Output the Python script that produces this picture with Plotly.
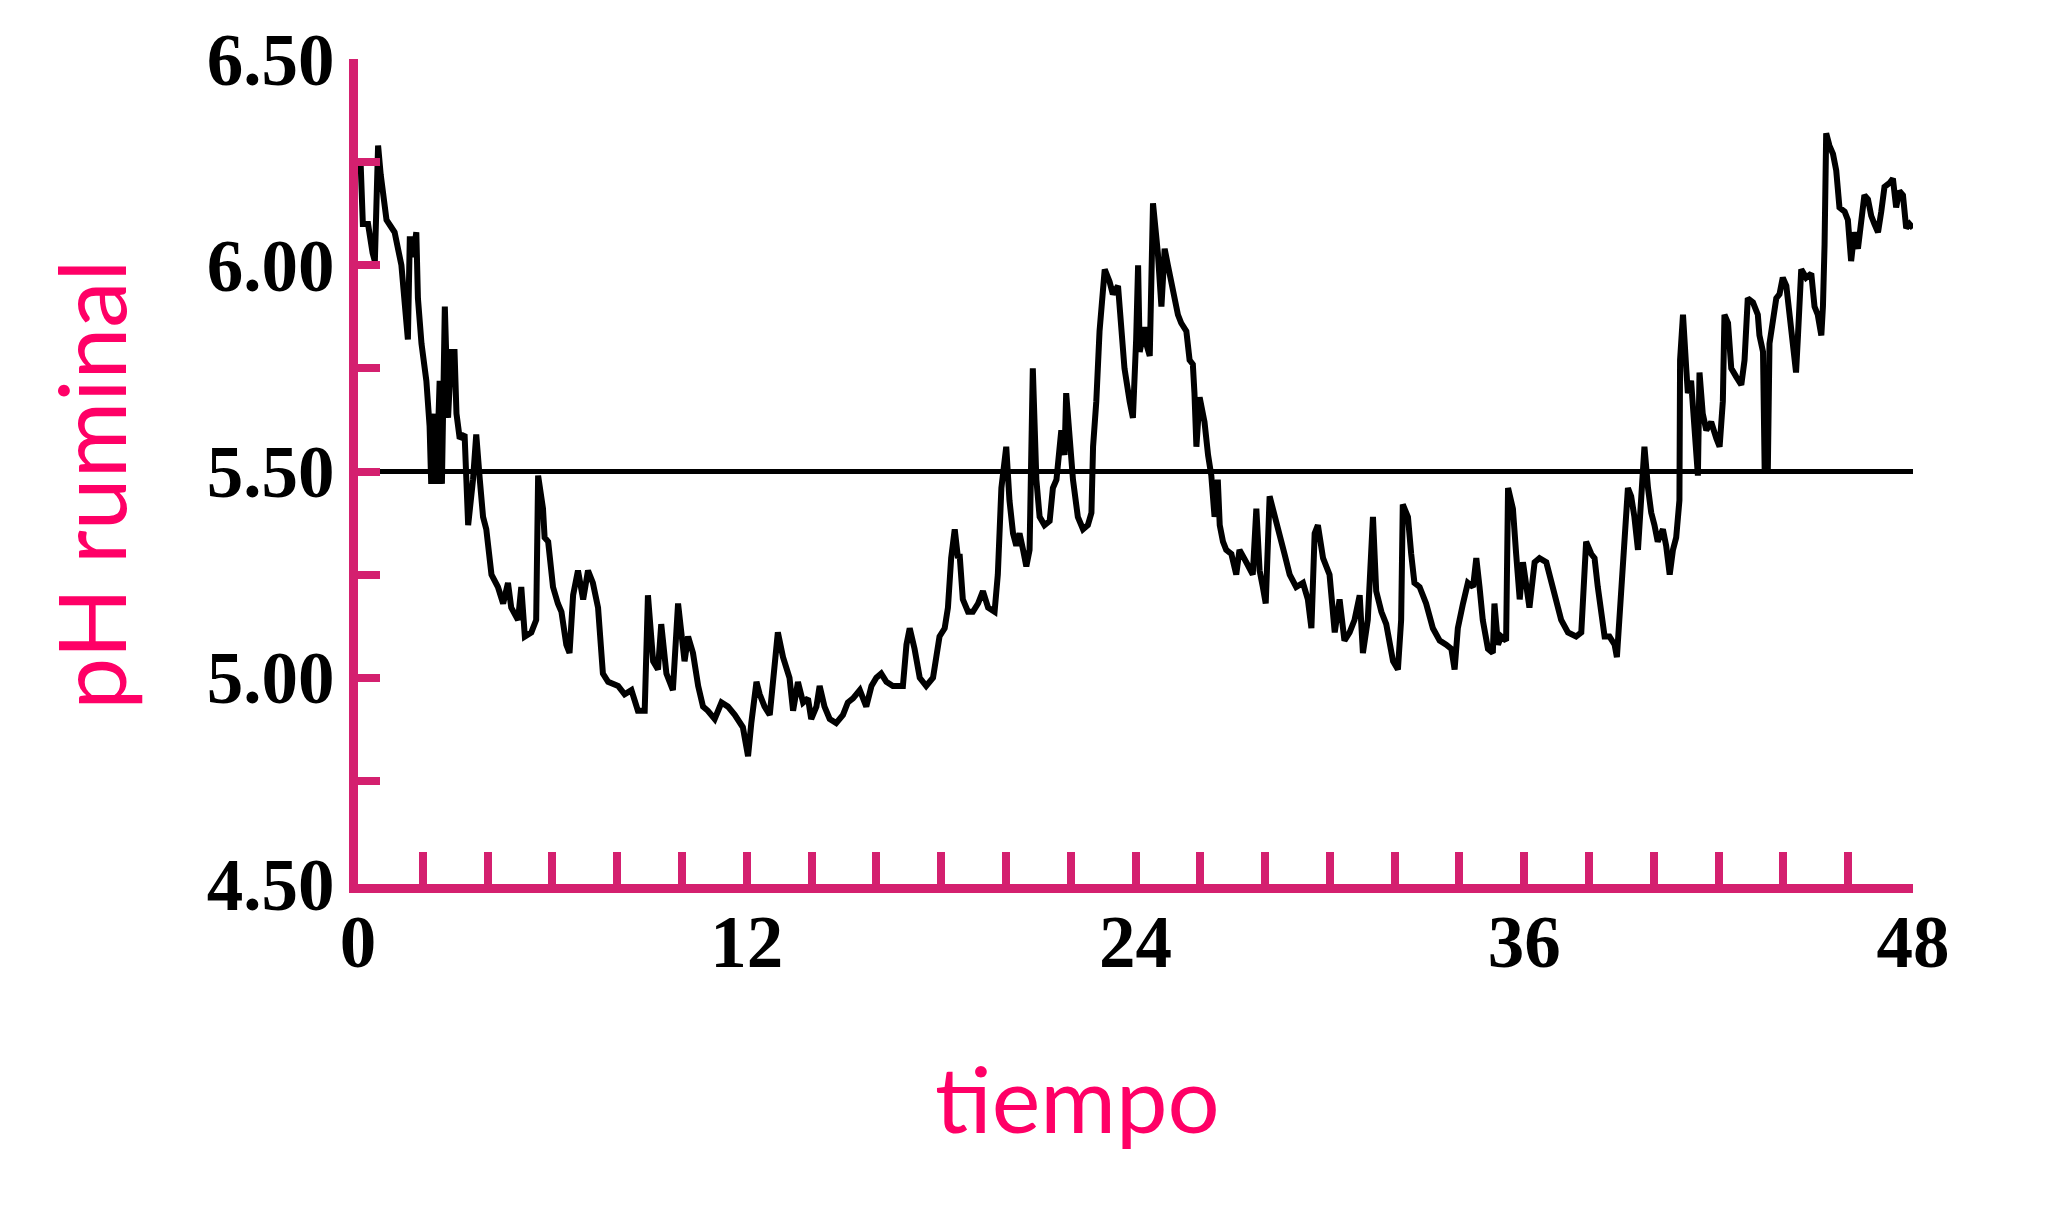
import plotly.graph_objects as go

# Time (hours) and ruminal pH
hours = [0.00, 0.08, 0.15, 0.31, 0.45, 0.52, 0.62, 0.70, 0.88, 1.13, 1.34, 1.44, 1.54, 1.60, 1.70, 1.80,
         1.85, 1.96, 2.11, 2.21, 2.26, 2.37, 2.42, 2.52, 2.59, 2.68, 2.78, 2.88, 2.98, 3.04, 3.14, 3.29,
         3.40, 3.55, 3.65, 3.76, 3.86, 3.96, 4.12, 4.32, 4.48, 4.63, 4.73, 4.94, 5.04, 5.15, 5.35, 5.50,
         5.56, 5.71, 5.76, 5.87, 6.02, 6.17, 6.28, 6.43, 6.53, 6.64, 6.79, 6.95, 7.10, 7.25, 7.41, 7.56,
         7.72, 8.03, 8.23, 8.44, 8.64, 8.85, 8.95, 9.11, 9.26, 9.36, 9.52, 9.72, 9.88, 10.08, 10.19, 10.34,
         10.50, 10.65, 10.80, 11.01, 11.22, 11.42, 11.63, 11.88, 12.04, 12.14, 12.30, 12.40, 12.55, 12.71,
         12.86, 12.96, 13.12, 13.32, 13.43, 13.58, 13.74, 13.89, 13.99, 14.15, 14.25, 14.40, 14.56, 14.76,
         14.97, 15.12, 15.28, 15.49, 15.69, 15.85, 16.00, 16.15, 16.31, 16.51, 16.82, 16.93, 17.03, 17.18,
         17.34, 17.54, 17.75, 17.85, 17.95, 18.11, 18.21, 18.31, 18.42, 18.52, 18.57, 18.67, 18.83, 18.98,
         19.14, 19.29, 19.45, 19.65, 19.75, 19.86, 20.01, 20.11, 20.22, 20.32, 20.42, 20.53, 20.63, 20.73,
         20.83, 20.94, 21.04, 21.19, 21.35, 21.45, 21.56, 21.71, 21.81, 21.86, 21.97, 22.07, 22.22, 22.38,
         22.53, 22.64, 22.69, 22.79, 22.89, 23.05, 23.20, 23.30, 23.46, 23.56, 23.66, 23.82, 23.92, 24.02,
         24.08, 24.13, 24.28, 24.33, 24.44, 24.54, 24.69, 24.80, 24.90, 25.00, 25.16, 25.31, 25.41, 25.57,
         25.67, 25.77, 25.82, 25.88, 25.98, 26.13, 26.24, 26.34, 26.44, 26.54, 26.60, 26.70, 26.80, 26.96,
         27.11, 27.21, 27.42, 27.62, 27.73, 27.83, 27.93, 28.02, 28.14, 28.29, 28.45, 28.60, 28.76, 28.96,
         29.17, 29.32, 29.43, 29.53, 29.63, 29.79, 29.99, 30.15, 30.30, 30.45, 30.61, 30.76, 30.92, 31.02,
         31.17, 31.33, 31.43, 31.59, 31.74, 31.95, 32.10, 32.20, 32.25, 32.41, 32.51, 32.61, 32.77, 32.97,
         33.18, 33.39, 33.59, 33.75, 33.85, 33.95, 34.11, 34.26, 34.42, 34.52, 34.62, 34.72, 34.88, 35.03,
         35.08, 35.19, 35.29, 35.44, 35.50, 35.65, 35.75, 35.86, 35.96, 36.06, 36.16, 36.32, 36.47, 36.68,
         36.83, 36.99, 37.14, 37.35, 37.60, 37.76, 37.86, 37.91, 38.07, 38.17, 38.27, 38.38, 38.48, 38.63,
         38.79, 38.86, 38.94, 39.04, 39.10, 39.20, 39.30, 39.40, 39.51, 39.61, 39.71, 39.82, 39.92, 40.02,
         40.12, 40.28, 40.38, 40.49, 40.59, 40.69, 40.79, 40.81, 40.90, 41.00, 41.05, 41.15, 41.26, 41.36,
         41.41, 41.51, 41.62, 41.77, 41.93, 42.03, 42.13, 42.18, 42.29, 42.39, 42.54, 42.70, 42.80, 42.90,
         43.06, 43.21, 43.26, 43.37, 43.42, 43.52, 43.57, 43.67, 43.78, 43.88, 43.98, 44.09, 44.19, 44.29,
         44.39, 44.45, 44.55, 44.70, 44.86, 44.96, 45.06, 45.17, 45.22, 45.27, 45.32, 45.42, 45.53, 45.63,
         45.73, 45.89, 45.99, 46.09, 46.19, 46.30, 46.40, 46.50, 46.61, 46.71, 46.81, 46.92, 47.02, 47.12,
         47.28, 47.38, 47.48, 47.58, 47.69, 47.79, 47.89, 48.00]

ph = [6.23, 6.25, 6.10, 6.10, 6.03, 6.01, 6.29, 6.22, 6.11, 6.08, 6.00, 5.90, 5.82, 6.07, 6.02, 6.08,
      5.92, 5.81, 5.72, 5.61, 5.47, 5.64, 5.47, 5.72, 5.47, 5.90, 5.63, 5.79, 5.79, 5.64, 5.58, 5.59,
      5.37, 5.48, 5.59, 5.48, 5.39, 5.36, 5.25, 5.22, 5.18, 5.23, 5.17, 5.14, 5.22, 5.10, 5.11, 5.14,
      5.49, 5.41, 5.34, 5.33, 5.22, 5.18, 5.16, 5.08, 5.06, 5.20, 5.26, 5.19, 5.26, 5.23, 5.17, 5.01,
      4.99, 4.98, 4.96, 4.97, 4.92, 4.92, 5.20, 5.04, 5.02, 5.13, 5.01, 4.97, 5.18, 5.04, 5.10, 5.06,
      4.98, 4.93, 4.92, 4.90, 4.94, 4.93, 4.91, 4.88, 4.81, 4.89, 4.99, 4.96, 4.93, 4.91,
      5.02, 5.11, 5.05, 5.00, 4.92, 4.99, 4.94, 4.95, 4.90, 4.93, 4.98, 4.93, 4.90, 4.89,
      4.91, 4.94, 4.95, 4.97, 4.93, 4.98, 5.00, 5.01, 4.99, 4.98, 4.98, 5.08, 5.12, 5.07,
      5.00, 4.98, 5.00, 5.05, 5.10, 5.12, 5.17, 5.29, 5.36, 5.29, 5.30, 5.19, 5.16, 5.16,
      5.18, 5.21, 5.17, 5.16, 5.25, 5.46, 5.56, 5.43, 5.35, 5.32, 5.35, 5.31, 5.27, 5.31,
      5.75, 5.48, 5.39, 5.37, 5.38, 5.46, 5.48, 5.60, 5.54, 5.69, 5.56, 5.48, 5.39, 5.36,
      5.37, 5.40, 5.56, 5.67, 5.84, 5.99, 5.96, 5.93, 5.95, 5.84, 5.75, 5.67, 5.63, 5.82,
      6.00, 5.79, 5.85, 5.81, 5.78, 6.15, 6.03, 5.90, 6.04, 6.00, 5.93, 5.88, 5.86, 5.84,
      5.77, 5.76, 5.69, 5.56, 5.68, 5.62, 5.54, 5.49, 5.39, 5.48, 5.37, 5.33, 5.31, 5.30,
      5.25, 5.31, 5.28, 5.25, 5.41, 5.26, 5.22, 5.18, 5.44, 5.39, 5.35, 5.30, 5.25, 5.22,
      5.23, 5.19, 5.12, 5.35, 5.37, 5.29, 5.25, 5.11, 5.19, 5.09, 5.11, 5.14, 5.20, 5.06,
      5.14, 5.39, 5.21, 5.16, 5.13, 5.04, 5.02, 5.14, 5.42, 5.39, 5.30, 5.23, 5.22, 5.18,
      5.12, 5.09, 5.08, 5.07, 5.02, 5.12, 5.18, 5.23, 5.22, 5.29, 5.22, 5.14, 5.07, 5.06,
      5.18, 5.08, 5.10, 5.09, 5.46, 5.41, 5.30, 5.19, 5.28, 5.22, 5.17, 5.28, 5.29, 5.28,
      5.23, 5.19, 5.14, 5.11, 5.10, 5.11, 5.25, 5.33, 5.30, 5.29, 5.22, 5.14, 5.10, 5.10,
      5.08, 5.05, 5.14, 5.25, 5.37, 5.46, 5.44, 5.39, 5.31, 5.46, 5.56, 5.46, 5.40, 5.37,
      5.33, 5.36, 5.32, 5.25, 5.31, 5.34, 5.43, 5.77, 5.88, 5.75, 5.69, 5.72, 5.58, 5.49,
      5.74, 5.64, 5.60, 5.62, 5.58, 5.56, 5.67, 5.88, 5.86, 5.75, 5.73, 5.71, 5.77, 5.92,
      5.91, 5.88, 5.83, 5.79, 5.51, 5.51, 5.81, 5.86, 5.92, 5.93, 5.97, 5.95, 5.88, 5.83,
      5.74, 5.83, 5.99, 5.97, 5.98, 5.90, 5.88, 5.83, 5.90, 6.05, 6.32, 6.29, 6.27, 6.23,
      6.14, 6.13, 6.11, 6.01, 6.08, 6.04, 6.11, 6.17, 6.16, 6.12, 6.10, 6.08, 6.13, 6.19,
      6.20, 6.21, 6.14, 6.18, 6.17, 6.09, 6.10, 6.09]

threshold_x = [0, 48]
threshold_y = [5.5, 5.5]

x_tick_vals = [0, 12, 24, 36, 48]
x_tick_text = ["0", "12", "24", "36", "48"]
y_tick_vals = [4.5, 5.0, 5.5, 6.0, 6.5]
y_tick_text = ["4.50", "5.00", "5.50", "6.00", "6.50"]

AXIS_COLOR = "#D4206F"
TITLE_COLOR = "#FF0066"
tick_font = dict(family="Liberation Serif", size=73, color="black", weight="bold")

fig = go.Figure()
fig.add_trace(go.Scatter(x=threshold_x, y=threshold_y, mode="lines",
                         line=dict(color="black", width=5), hoverinfo="skip"))
fig.add_trace(go.Scatter(x=hours, y=ph, mode="lines",
                         line=dict(color="black", width=6)))

fig.update_layout(
    width=2048, height=1215, autosize=False,
    margin=dict(l=358, r=135, t=59, b=331),
    paper_bgcolor="white", plot_bgcolor="white",
    showlegend=False,
    xaxis=dict(range=[0, 48], showline=True, linecolor=AXIS_COLOR, linewidth=9,
               showgrid=False, zeroline=False,
               ticks="inside", ticklen=32, tickwidth=8, tickcolor=AXIS_COLOR,
               tickmode="array", tickvals=x_tick_vals, ticktext=x_tick_text,
               tickfont=tick_font, ticklabelstandoff=-14,
               minor=dict(dtick=2, tick0=0, ticks="inside", ticklen=32, tickwidth=8,
                          tickcolor=AXIS_COLOR, showgrid=False)),
    yaxis=dict(range=[4.5, 6.5], showline=True, linecolor=AXIS_COLOR, linewidth=9,
               showgrid=False, zeroline=False,
               ticks="inside", ticklen=22, tickwidth=8, tickcolor=AXIS_COLOR,
               tickmode="array", tickvals=y_tick_vals, ticktext=y_tick_text,
               tickfont=tick_font,
               minor=dict(dtick=0.25, tick0=4.5, ticks="inside", ticklen=22, tickwidth=8,
                          tickcolor=AXIS_COLOR, showgrid=False)),
    annotations=[
        dict(text="tiempo", xref="paper", yref="paper", x=0.4628, y=-0.259,
             xanchor="center", yanchor="middle", showarrow=False,
             font=dict(family="Lato", size=92, color=TITLE_COLOR)),
        dict(text="pH ruminal", xref="paper", yref="paper", x=-0.1720, y=0.4835,
             xanchor="center", yanchor="middle", showarrow=False, textangle=-90,
             font=dict(family="Lato", size=93, color=TITLE_COLOR)),
    ],
)

fig.write_html("out.html", config={"displayModeBar": False},
               post_script="document.body.style.margin='0';document.body.style.overflow='hidden';")
